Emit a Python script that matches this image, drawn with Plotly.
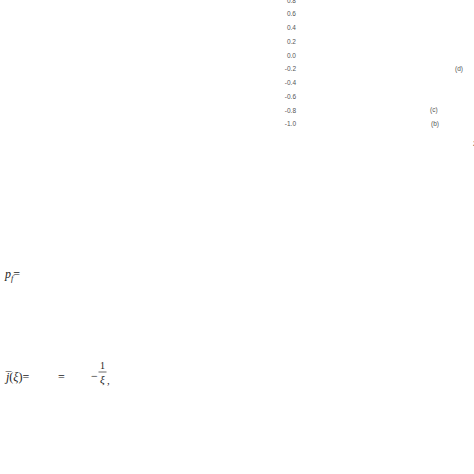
import plotly.graph_objects as go

# tick values on the y axis of the (empty) panel
tick_vals = [0.8, 0.6, 0.4, 0.2, 0.0, -0.2, -0.4, -0.6, -0.8, -1.0]
tick_text = ["0.8", "0.6", "0.4", "0.2", "0.0", "-0.2", "-0.4", "-0.6", "-0.8", "-1.0"]

# curve labels (text, x in panel units, y value)
curve_labels = ["(d)", "(c)", "(b)"]
curve_x = [0.916, 0.778, 0.781]
curve_y = [-0.2, -0.8, -1.0]

W = H = 474
x0 = 296 / W
px_per_unit = 68.75
y_top = 0.805
y_bot = y_top - H / px_per_unit

fig = go.Figure()
fig.add_trace(go.Scatter(x=[0.5], y=[y_bot + 1], mode="markers", marker=dict(opacity=0),
                         showlegend=False, hoverinfo="skip"))

gray = "#555555"
for t, x, y in zip(curve_labels, curve_x, curve_y):
    fig.add_annotation(text=t, x=x, y=y, xref="x", yref="y", showarrow=False,
                       font=dict(family="Liberation Sans", size=6.5, color=gray))
fig.add_annotation(text="2", x=0.983, y=-1.28, xref="x", yref="y", xanchor="left",
                   showarrow=False, font=dict(family="Liberation Sans", size=7, color=gray))

ink = "#222222"
serif = dict(family="Liberation Serif", size=12, color=ink)


def px(xp, yp):
    return xp / W, 1 - yp / H


def note(text, xp, yp, xanchor="center", font=serif):
    x, y = px(xp, yp)
    fig.add_annotation(text=text, x=x, y=y, xref="paper", yref="paper", xanchor=xanchor,
                       yanchor="middle", showarrow=False, font=font)


note("<i>p</i><sub><i>f</i></sub>=", 2, 275, "left")
note("<i>j\u0305</i>(<i>\u03be</i>)=", 2, 377, "left")
note("=", 61, 377)
note("\u2212", 94, 376)
note("1", 102.5, 365.5, font=dict(family="Liberation Serif", size=10, color=ink))
note("<i>\u03be</i>", 102, 379.5, font=dict(family="Liberation Serif", size=11, color=ink))
note(",", 108.5, 380, font=dict(family="Liberation Serif", size=11, color=ink))
bx0, by = px(98.5, 372)
bx1, _ = px(106.5, 372)
fig.add_shape(type="line", x0=bx0, x1=bx1, y0=by, y1=by, xref="paper", yref="paper",
              line=dict(color="#444444", width=0.8))

fig.update_layout(
    template="none",
    width=W, height=H,
    margin=dict(l=0, r=0, t=0, b=0),
    paper_bgcolor="white", plot_bgcolor="white",
    xaxis=dict(domain=[x0, 1], range=[0, 1], visible=False),
    yaxis=dict(anchor="free", position=x0, range=[y_bot, y_top],
               tickvals=tick_vals, ticktext=tick_text, ticks="",
               ticklabeloverflow="allow",
               showgrid=False, zeroline=False, showline=False,
               tickfont=dict(family="Liberation Sans", size=6.5, color=gray)),
)

fig.write_html("out.html", config={"displayModeBar": False},
               post_script="document.body.style.margin='0';")
